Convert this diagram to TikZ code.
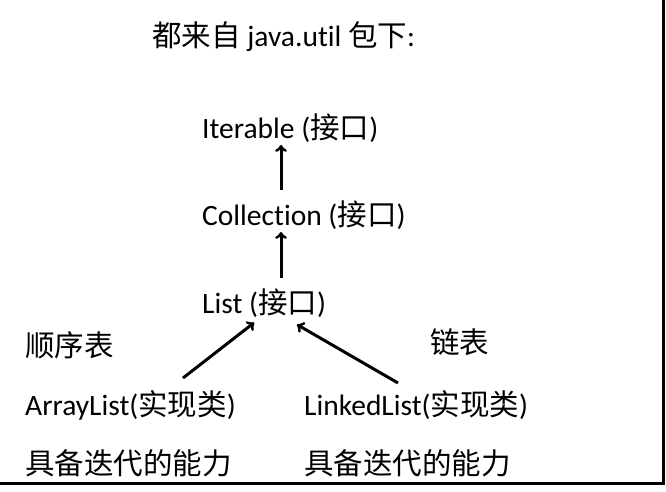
\documentclass[tikz,border=0pt]{standalone}
\usepackage{fontspec}
\setmainfont{Carlito}[Ligatures=NoCommon]
\newfontfamily\cjk{Noto Sans CJK SC}
\begin{document}
\begin{tikzpicture}[x=1pt,y=-1pt,
  lbl/.style={anchor=west,inner sep=0pt,font=\fontsize{29.5}{33}\selectfont},
  arr/.style={-to,line width=3pt,shorten >=1pt}]
\useasboundingbox (0,0) rectangle (666,492);
\draw[line width=3pt] (0,483) -- (663,483) -- (663,0);
\node[lbl] (t) at (152,37) {{\cjk 都来自} java.util {\cjk 包下}:};
\node[lbl] (it) at (202,128) {Iterable ({\cjk 接口})};
\node[lbl] (co) at (202,215) {Collection ({\cjk 接口})};
\node[lbl] (li) at (202,303) {List ({\cjk 接口})};
\node[lbl] (sx) at (25,345) {\cjk 顺序表};
\node[lbl] (lb) at (430,342) {\cjk 链表};
\node[lbl] (al) at (25,405) {ArrayList({\cjk 实现类})};
\node[lbl] (ll) at (304,405) {LinkedList({\cjk 实现类})};
\node[lbl] (a1) at (25,463) {\cjk 具备迭代的能力};
\node[lbl] (a2) at (304,463) {\cjk 具备迭代的能力};
\coordinate (c1) at (281,190); \coordinate (c1e) at (281,144);
\coordinate (c2) at (281,278); \coordinate (c2e) at (281,231);
\coordinate (c3) at (183,378); \coordinate (c3e) at (255,322);
\coordinate (c4) at (398,383); \coordinate (c4e) at (296,324);
\draw[arr] (c1) -- (c1e);
\draw[arr] (c2) -- (c2e);
\draw[arr] (c3) -- (c3e);
\draw[arr] (c4) -- (c4e);
\end{tikzpicture}
\end{document}
